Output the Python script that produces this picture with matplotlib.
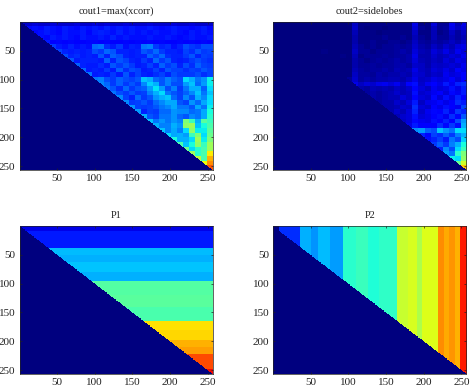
import numpy as np
import matplotlib
matplotlib.use("Agg")
import matplotlib.pyplot as plt

plt.rcParams['font.family'] = ['Liberation Serif', 'DejaVu Serif']

TICKS = [50, 100, 150, 200, 250]
N = 256
CELL = 8

# Each row lists coarse cells from the diagonal to the right edge (percent of the colour scale)
cout1_rows = [
    [7,7,8,7,7,8,7,7,7,8,7,7, 8,7,8,7,7,8,7,7, 7,8,7,7,7,8,7, 7,8,7,7,7],
    [13,14,13,15,14,13,15,14,13,15,14, 15,14,16,14,15,14,15,14, 14,15,14,13,14,15,14, 14,13,14,15,13],
    [13,14,15,14,13,15,14,14,15,13, 15,16,15,14,16,14,15,14, 15,14,15,14,14,15,14, 13,15,14,15,14],
    [14,13,15,14,15,14,13,15,14, 14,15,14,16,14,15,14,14, 14,15,14,14,15,14,13, 14,15,14,14,15],
    [15,12,13,12,13,12,12,13, 13,12,13,12,12,13,12,13, 12,13,12,13,12,12,13, 12,13,12,13,12],
    [18,15,14,16,14,15,14, 23,24,17,15,18,14,16,15, 24,25,18,16,17,14,16, 20,18,17,20,20],
    [19,16,15,16,15,16, 20,18,23,21,16,16,15,16, 21,19,23,18,16,16,15, 19,17,21,18,19],
    [20,16,17,15,16, 15,21,16,22,20,16,15,16, 16,22,19,23,17,16,16, 18,21,16,19,18],
    [21,15,16,16, 16,15,22,16,21,19,16,15, 18,16,23,18,21,16,15, 16,18,20,18,17],
    [22,16,15, 15,17,15,21,18,21,18,15, 16,19,16,22,18,20,16, 20,17,22,19,18],
    [23,15, 16,15,18,15,22,17,20,19, 15,16,19,16,21,19,19, 17,19,18,21,19],
    [24, 15,16,15,18,15,21,16,19, 16,15,17,19,16,20,18, 18,18,20,17,19],
    [24,25,20,18,22,20,19,21, 32,30,23,21,25,22,20, 34,30,24,27,36],
    [26,23,18,22,18,21,18, 26,33,30,21,25,20,20, 28,32,23,28,36],
    [24,21,17,23,18,21, 22,28,35,28,20,25,18, 24,30,30,22,34],
    [24,20,18,21,18, 19,25,30,34,24,21,19, 22,26,32,24,32],
    [26,19,16,23, 18,21,27,30,32,23,19, 26,21,30,26,34],
    [26,18,19, 21,18,23,26,29,29,21, 19,27,23,29,34],
    [27,19, 18,19,21,24,26,29,24, 24,21,29,24,36],
    [28, 16,19,18,23,23,27,26, 26,23,24,29,38],
    [30,21,19,24,24,27,23, 21,26,24,29,40],
    [32,24,27,24,27,25, 50,42,30,46,42],
    [30,25,25,30,27, 52,54,32,38,44],
    [32,25,29,25, 34,52,36,36,46],
    [34,29,30, 28,42,50,34,48],
    [38,30, 30,34,54,36,50],
    [44, 32,38,52,42,54],
    [48,34,40,44,54],
    [54,40,44,66],
    [58,44,72],
    [64,76],
    [82],
]

cout2_rows = [
    [0,0,0,0,0,0,0,0,0,0,0,0,0, 6,1,1,1,1,1,1, 1,1,1,9,1,1,8, 2,2,10,5,9],
    [0,0,0,0,0,0,0,0,0,0,0,0, 7,1,0,1,1,0,1, 1,1,1,8,2,1,6, 2,3,9,6,8],
    [0,0,0,0,0,0,0,0,0,0,0, 5,1,1,1,0,1,1, 1,1,1,6,1,1,5, 1,2,6,3,6],
    [0,0,0,0,0,0,0,0,0,0, 4,1,1,1,1,2,1, 1,2,1,5,2,1,5, 2,2,5,3,5],
    [0,0,0,0,0,0,0,0,0, 4,1,1,2,1,1,2, 2,1,2,6,3,2,4, 3,4,6,4,7],
    [0,0,0,0,0,0,0,0, 5,2,1,2,1,2,2, 3,2,3,7,4,3,6, 4,7,5,8,9],
    [0,0,1,0,0,0,0, 6,2,2,1,2,2,2, 3,4,3,8,5,4,8, 6,9,6,10,8],
    [0,0,0,0,1,0, 5,1,2,2,2,3,2, 3,3,4,9,4,4,7, 5,6,8,7,10],
    [0,0,0,0,0, 4,2,1,2,3,2,3, 4,3,4,8,5,4,6, 5,8,6,9,8],
    [0,0,0,0, 4,2,2,3,2,3,3, 4,4,3,7,6,4,7, 6,7,8,7,10],
    [0,0,0, 5,3,2,3,3,4,3, 5,4,5,9,6,5,8, 7,9,7,11,9],
    [0,0, 6,3,3,2,4,3,4, 4,5,4,8,7,5,7, 6,10,8,9,12],
    [2, 7,3,4,3,4,4,5, 5,4,6,9,6,7,9, 8,9,11,8,12],
    [9,6,8,7,9,10,8, 10,6,12,14,7,10,12, 9,15,10,16,17],
    [4,3,5,4,5,4, 6,5,7,11,8,6,10, 8,9,14,9,15],
    [3,4,3,4,5, 7,5,6,14,7,8,10, 11,8,13,10,15],
    [4,3,4,5, 5,8,6,11,8,7,13, 8,14,9,16,12],
    [3,4,4, 7,5,8,15,6,9,10, 13,9,11,17,15],
    [4,4, 5,7,6,17,8,7,11, 9,14,12,10,19],
    [4, 7,5,8,16,7,10,13, 11,16,10,18,16],
    [5,7,8,14,8,9,11, 14,10,17,13,21],
    [6,8,13,10,9,14, 11,16,12,20,28],
    [9,15,11,12,11, 17,13,18,14,30],
    [26,28,22,20, 32,27,24,34,34],
    [16,13,19, 17,22,18,25,30],
    [14,16, 19,15,24,20,33],
    [18, 22,18,25,30,38],
    [16,26,20,34,42],
    [28,24,40,50],
    [36,34,52],
    [48,60],
    [70],
]

p1_edges = [0, 9, 38, 50, 62, 80, 95, 120, 140, 164, 180, 197, 210, 221, 247, 256]
p1_values = [9, 15, 31, 30, 32, 30, 45, 46, 44, 67, 68, 72, 74, 83, 90]

p2_edges = [0, 8, 36, 50, 60, 75, 92, 110, 125, 140, 163, 178, 190, 196, 218, 225, 232, 240, 247, 256]
p2_values = [0, 17, 30, 27, 31, 28, 40, 42, 39, 41, 59, 61, 56, 62, 76, 73, 75, 72, 88]

titles = ['cout1=max(xcorr)', 'cout2=sidelobes', 'P1', 'P2']
positions = [
    (19.5, 22, 193, 148),
    (273.3, 22, 193, 148),
    (19.5, 226, 193, 148),
    (273.3, 226, 193, 148),
]


def coarse_matrix(rows):
    grid = np.zeros((32, 32))
    for r, row in enumerate(rows):
        assert len(row) == 32 - r, (r, len(row))
        grid[r, r:] = row
    return np.repeat(np.repeat(grid, CELL, axis=0), CELL, axis=1) / 100.0


def band_values(edges, values):
    return np.repeat(values, np.diff(edges)) / 100.0


def triangle(m):
    return np.where(np.tri(N, N, -1, dtype=bool), 0.0, m)


p1_line = band_values(p1_edges, p1_values)
p2_line = band_values(p2_edges, p2_values)
matrices = [
    triangle(coarse_matrix(cout1_rows)),
    triangle(coarse_matrix(cout2_rows)),
    triangle(np.tile(p1_line[:, None], (1, N))),
    triangle(np.tile(p2_line[None, :], (N, 1))),
]

W, H = 474, 387
fig = plt.figure(figsize=(W / 100, H / 100), dpi=100, facecolor='white')
for m, title, (x, y, w, h) in zip(matrices, titles, positions):
    ax = fig.add_axes([x / W, 1 - (y + h) / H, w / W, h / H])
    ax.imshow(m, cmap='jet', vmin=0, vmax=1, aspect='auto',
              interpolation='nearest', extent=(0.5, N + 0.5, N + 0.5, 0.5))
    ax.set_xticks(TICKS)
    ax.set_yticks(TICKS)
    ax.tick_params(direction='in', length=1.5, width=0.5, top=True, right=True,
                   labelsize=8, pad=3, colors='#222222')
    for s in ax.spines.values():
        s.set_linewidth(0.5)
        s.set_color('#222222')
    ax.set_title(title, fontsize=7.5, pad=6, color='#222222')

fig.savefig('out.png', dpi=100)
